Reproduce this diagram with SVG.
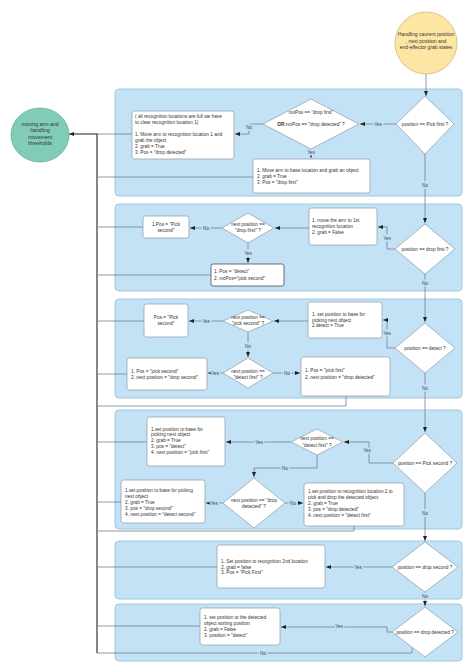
<svg xmlns="http://www.w3.org/2000/svg" width="474" height="663" viewBox="0 0 474 663">
<style>
.band{fill:#c3e2f6;stroke:#a0c7e0;stroke-width:1}
.box{fill:#fff;stroke:#8d9aa6;stroke-width:0.7}
.dia{fill:#fff;stroke:#8d9aa6;stroke-width:0.7}
.c{fill:none;stroke:#6f8090;stroke-width:0.8}
.k{fill:none;stroke:#222;stroke-width:1.1}
text{font-family:"Liberation Sans",Arial,sans-serif;fill:#333}
.t{font-size:4.75px}
.m{font-size:4.75px;text-anchor:middle}
.lbl{font-size:4.75px;text-anchor:middle;fill:#445;paint-order:stroke;stroke:#c3e2f6;stroke-width:3px}
.cir{font-size:5px;text-anchor:middle}
</style>
<defs>
<marker id="a" markerUnits="userSpaceOnUse" markerWidth="5" markerHeight="4" refX="5" refY="2" orient="auto">
<path d="M0,0 L5,2 L0,4 z" fill="#222"/>
</marker>
</defs>

<g id="bands">
<rect class="band" x="115" y="89" width="347" height="107" rx="4"/>
<rect class="band" x="115" y="204" width="347" height="87" rx="4"/>
<rect class="band" x="115" y="299" width="347" height="99" rx="4"/>
<rect class="band" x="115" y="410" width="347" height="119" rx="4"/>
<rect class="band" x="115" y="541" width="347" height="58" rx="4"/>
<rect class="band" x="115" y="604" width="347" height="57" rx="4"/>
</g>

<g id="connectors">
<path class="c" d="M426,74 V96" marker-end="url(#a)"/>
<path class="c" d="M396,124 H360" marker-end="url(#a)"/>
<path class="c" d="M263,124 H249 V134 H235" marker-end="url(#a)"/>
<path class="c" d="M311,149 V158" marker-end="url(#a)"/>
<path class="c" d="M132,134 H97"/>
<path class="k" d="M97,653 V134 H69" marker-end="url(#a)"/>
<path class="c" d="M253,177 H97"/>
<path class="c" d="M425,154 V223" marker-end="url(#a)"/>
<path class="c" d="M395,249 H387 V227 H378" marker-end="url(#a)"/>
<path class="c" d="M309,228 H275" marker-end="url(#a)"/>
<path class="c" d="M222,228 H190" marker-end="url(#a)"/>
<path class="c" d="M143,227 H97"/>
<path class="c" d="M248,243 V263" marker-end="url(#a)"/>
<path class="c" d="M211,275 H97"/>
<path class="c" d="M425,274 V322" marker-end="url(#a)"/>
<path class="c" d="M395,348 H387 V320 H383" marker-end="url(#a)"/>
<path class="c" d="M308,321 H274" marker-end="url(#a)"/>
<path class="c" d="M223,321 H189" marker-end="url(#a)"/>
<path class="c" d="M144,321 H97"/>
<path class="c" d="M248,332 V357" marker-end="url(#a)"/>
<path class="c" d="M223,373 H208" marker-end="url(#a)"/>
<path class="c" d="M127,374 H97"/>
<path class="c" d="M273,373 H300" marker-end="url(#a)"/>
<path class="c" d="M346,396 V406 H97"/>
<path class="c" d="M425,373 V432" marker-end="url(#a)"/>
<path class="c" d="M393,463 H369 V442 H344" marker-end="url(#a)"/>
<path class="c" d="M291,442 H226" marker-end="url(#a)"/>
<path class="c" d="M147,442 H97"/>
<path class="c" d="M317,455 V468 H254 V477" marker-end="url(#a)"/>
<path class="c" d="M223,503 H206" marker-end="url(#a)"/>
<path class="c" d="M121,502 H97"/>
<path class="c" d="M285,503 H303" marker-end="url(#a)"/>
<path class="c" d="M354,526 V531 H97"/>
<path class="c" d="M425,493 V541" marker-end="url(#a)"/>
<path class="c" d="M392,567 H326" marker-end="url(#a)"/>
<path class="c" d="M217,567 H97"/>
<path class="c" d="M425,592 V606" marker-end="url(#a)"/>
<path class="c" d="M392,632 H387 V627 H281" marker-end="url(#a)"/>
<path class="c" d="M200,626 H97"/>
<path class="c" d="M412,648 V653 H97"/>
<text class="lbl" x="378" y="125.5">Yes</text>
<text class="lbl" x="249" y="128.5">No</text>
<text class="lbl" x="311" y="154">Yes</text>
<text class="lbl" x="425" y="186.5">No</text>
<text class="lbl" x="387" y="240">Yes</text>
<text class="lbl" x="206" y="229.5">No</text>
<text class="lbl" x="248" y="254.5">Yes</text>
<text class="lbl" x="425" y="284.5">No</text>
<text class="lbl" x="387" y="334.5">Yes</text>
<text class="lbl" x="206" y="322.5">Yes</text>
<text class="lbl" x="248" y="347.5">No</text>
<text class="lbl" x="215" y="374.5">Yes</text>
<text class="lbl" x="287" y="374.5">No</text>
<text class="lbl" x="425" y="389.5">No</text>
<text class="lbl" x="367" y="451.5">Yes</text>
<text class="lbl" x="259" y="443.5">Yes</text>
<text class="lbl" x="285" y="469.5">No</text>
<text class="lbl" x="214" y="504.5">Yes</text>
<text class="lbl" x="293" y="504.5">No</text>
<text class="lbl" x="425" y="514.5">No</text>
<text class="lbl" x="358" y="568.5">Yes</text>
<text class="lbl" x="425" y="597.5">No</text>
<text class="lbl" x="339" y="627.5">Yes</text>
<text class="lbl" x="263" y="654.5">No</text>
</g>

<g id="start">
<circle cx="426" cy="43" r="31" fill="#fde6a3" stroke="#c9b274" stroke-width="0.7"/>
<text class="cir" x="426" y="36">Handling caurent position</text>
<text class="cir" x="426" y="42.5">, next position and</text>
<text class="cir" x="426" y="49">end-effector grab states</text>
</g>

<g id="end">
<ellipse cx="40" cy="135" rx="29" ry="27" fill="#80ccb8" stroke="#5fa594" stroke-width="0.7"/>
<text class="cir" x="40" y="125.5" style="font-size:5.2px">moving arm and</text>
<text class="cir" x="40" y="132" style="font-size:5.2px">handling</text>
<text class="cir" x="40" y="138.5" style="font-size:5.2px">movement</text>
<text class="cir" x="40" y="145" style="font-size:5.2px">thresholds</text>
</g>

<g id="d1">
<polygon class="dia" points="425,96 454,124 425,154 396,124"/>
<text class="m" x="425" y="125.6">position == Pick first ?</text>
</g>
<g id="dnxt">
<polygon class="dia" points="311,99 359,124 311,149 263,124"/>
<text class="m" x="311" y="114">nxtPos == "drop first"</text>
<text class="m" x="311" y="125.5"><tspan font-weight="bold">OR</tspan> nxtPos == "drop detected" ?</text>
</g>
<g id="box1">
<rect class="box" x="132" y="111" width="102" height="48" rx="2.5"/>
<text class="t" x="135" y="117.6">( all recognition locations are full we have</text>
<text class="t" x="135" y="123.6">to clear recognition location 1)</text>
<text class="t" x="135" y="135.6">1. Move arm to recognition location 1 and</text>
<text class="t" x="135" y="141.6">grab the object</text>
<text class="t" x="135" y="147.6">2.  grab = True</text>
<text class="t" x="135" y="153.6">3. Pos = "drop detected"</text>
</g>
<g id="box2">
<rect class="box" x="253" y="159" width="117" height="34" rx="2.5"/>
<text class="t" x="257" y="171.5">1. Move arm to base location and grab an object</text>
<text class="t" x="257" y="177.5">2. grab = True</text>
<text class="t" x="257" y="184">3. Pos = "drop first"</text>
</g>

<g id="d2">
<polygon class="dia" points="425,224 455,249 425,274 395,249"/>
<text class="m" x="425" y="250.6">position == drop first ?</text>
</g>
<g id="box3">
<rect class="box" x="309" y="208" width="68" height="37" rx="2.5"/>
<text class="t" x="312" y="221.5">1. move the arm to 1st</text>
<text class="t" x="312" y="227.5">recognition location</text>
<text class="t" x="312" y="233.5">2. grab = False</text>
</g>
<g id="dnd1">
<polygon class="dia" points="248,213 274,228 248,243 222,228"/>
<text class="m" x="248" y="225.5">next position ==</text>
<text class="m" x="248" y="231.5">"drop first" ?</text>
</g>
<g id="box4">
<rect class="box" x="143" y="216" width="46" height="22" rx="2.5"/>
<text class="m" x="166" y="225.5">1.Pos = "Pick</text>
<text class="m" x="166" y="231.5">second"</text>
</g>
<g id="box5">
<rect class="box" x="211" y="264" width="73" height="22" rx="2" style="stroke:#333"/>
<text class="t" x="214" y="272.5">1. Pos = "detect"</text>
<text class="t" x="214" y="279.5">2. nxtPos="pick second"</text>
</g>

<g id="d3">
<polygon class="dia" points="425,323 455,348 425,373 395,348"/>
<text class="m" x="425" y="349.6">position == detect ?</text>
</g>
<g id="box6">
<rect class="box" x="308" y="302" width="74" height="36" rx="2.5"/>
<text class="t" x="312" y="315.5">1. set position to base for</text>
<text class="t" x="312" y="321.5">picking next object</text>
<text class="t" x="312" y="327">2.detect = True</text>
</g>
<g id="dnd2">
<polygon class="dia" points="248,310 273,321 248,332 223,321"/>
<text class="m" x="248" y="318.5">next position ==</text>
<text class="m" x="248" y="324.5">"pick second" ?</text>
</g>
<g id="box7">
<rect class="box" x="144" y="304" width="44" height="33" rx="2.5"/>
<text class="m" x="166" y="318.5">Pos = "Pick</text>
<text class="m" x="166" y="324.5">second"</text>
</g>
<g id="dnd3">
<polygon class="dia" points="248,358 273,373 248,388 223,373"/>
<text class="m" x="248" y="372.5">next position ==</text>
<text class="m" x="248" y="378.5">"detect first" ?</text>
</g>
<g id="box8">
<rect class="box" x="127" y="358" width="80" height="32" rx="2.5"/>
<text class="t" x="131" y="372.5">1. Pos = "pick second"</text>
<text class="t" x="131" y="378.5">2. next position = "drop second"</text>
</g>
<g id="box9">
<rect class="box" x="301" y="357" width="89" height="39" rx="2.5"/>
<text class="t" x="305" y="371.5">1. Pos = "pick first"</text>
<text class="t" x="305" y="378.5">2. next position = "drop detected"</text>
</g>

<g id="d4">
<polygon class="dia" points="425,433 457,463 425,493 393,463"/>
<text class="m" x="425" y="464.6">position == Pick second ?</text>
</g>
<g id="dnd4">
<polygon class="dia" points="317,429 343,442 317,455 291,442"/>
<text class="m" x="317" y="439.5">next position ==</text>
<text class="m" x="317" y="446.5">"detect first" ?</text>
</g>
<g id="box10">
<rect class="box" x="147" y="417" width="78" height="49" rx="2.5"/>
<text class="t" x="151" y="430.5">1.set position to base for</text>
<text class="t" x="151" y="436">picking next object</text>
<text class="t" x="151" y="441.5">2. grab = True</text>
<text class="t" x="151" y="447.5">3. pos = "detect"</text>
<text class="t" x="151" y="453.5">4. next position = "pick first"</text>
</g>
<g id="dnd5">
<polygon class="dia" points="254,478 285,503 254,528 223,503"/>
<text class="m" x="254" y="501.5">next position == "drop</text>
<text class="m" x="254" y="507.5">detected" ?</text>
</g>
<g id="box11">
<rect class="box" x="121" y="480" width="84" height="43" rx="2.5"/>
<text class="t" x="125" y="491.5">1.set position to base for picking</text>
<text class="t" x="125" y="497.5">next object</text>
<text class="t" x="125" y="503.5">2. grab = True</text>
<text class="t" x="125" y="509.5">3. pos = "drop second"</text>
<text class="t" x="125" y="515.5">4. next position = "detect second"</text>
</g>
<g id="box12">
<rect class="box" x="304" y="483" width="100" height="43" rx="2.5"/>
<text class="t" x="308" y="492.5">1.set position to recognition location 2 to</text>
<text class="t" x="308" y="498.5">pick and drop the detected object</text>
<text class="t" x="308" y="505">2. grab = True</text>
<text class="t" x="308" y="511">3. pos = "drop detected"</text>
<text class="t" x="308" y="517">4. next position = "detect first"</text>
</g>

<g id="d5">
<polygon class="dia" points="425,542 458,567 425,592 392,567"/>
<text class="m" x="425" y="568.6">position == drop second ?</text>
</g>
<g id="box13">
<rect class="box" x="217" y="545" width="108" height="43" rx="2.5"/>
<text class="t" x="221" y="562.5">1. Set position to recognition 2nd location</text>
<text class="t" x="221" y="568.5">2. grab = false</text>
<text class="t" x="221" y="574">3. Pos = "Pick First"</text>
</g>

<g id="d6">
<polygon class="dia" points="425,607 458,632 425,657 392,632"/>
<text class="m" x="425" y="633.6">position == drop detected ?</text>
</g>
<g id="box14">
<rect class="box" x="200" y="608" width="80" height="37" rx="2.5"/>
<text class="t" x="204" y="618.5">1. set position to the detected</text>
<text class="t" x="204" y="624.5">object sorting position</text>
<text class="t" x="204" y="630.5">2. grab = False</text>
<text class="t" x="204" y="636.5">3. position = "detect"</text>
</g>
</svg>
